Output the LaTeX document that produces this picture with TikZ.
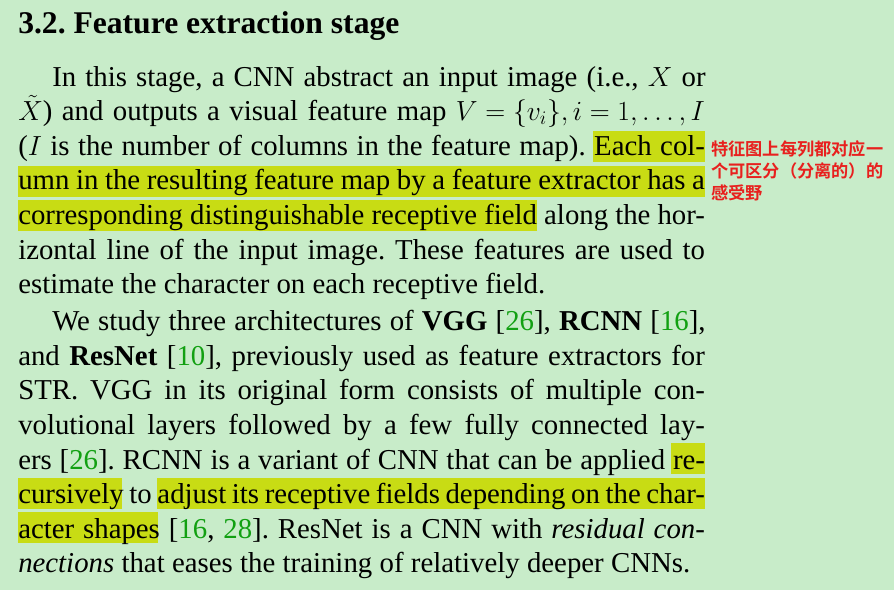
\documentclass[tikz,border=0pt]{standalone}
\usepackage{fontspec}
\setmainfont{Liberation Serif}
\newfontfamily\cjk{Noto Sans CJK SC}[BoldFont={* Bold}]
\definecolor{bg}{HTML}{C8ECC9}
\definecolor{hl}{HTML}{C8DC14}
\definecolor{refg}{HTML}{12A012}
\definecolor{annot}{HTML}{E8201E}
\newcommand{\rf}[1]{\textcolor{refg}{#1}}
\frenchspacing
\begin{document}
\begin{tikzpicture}[x=0.75pt,y=-0.75pt,
  bl/.style={anchor=base west,inner sep=0pt,font=\fontsize{21.6}{26}\selectfont},
  hlbox/.style={fill=hl,draw=none}]
\fill[bg] (0,0) rectangle (894,590);
\useasboundingbox (0,0) rectangle (894,590);
% highlights
\fill[hlbox] (593,131) rectangle (705,162);
\fill[hlbox] (18,166) rectangle (705,197);
\fill[hlbox] (18,200) rectangle (537,231);
\fill[hlbox] (671,443) rectangle (705,474);
\fill[hlbox] (18,478) rectangle (122,509);
\fill[hlbox] (157,478) rectangle (705,509);
\fill[hlbox] (18,512) rectangle (158,543);
% heading
\node[anchor=base west,inner sep=0pt,font=\fontsize{23.7}{28}\selectfont\bfseries] (h) at (18,33) {3.2. Feature extraction stage};
% body
\node[bl] (l1) at (52,86.0) {\makebox[490pt][s]{In this stage, a CNN abstract an input image (i.e., $X$ or}};
\node[bl] (l2) at (18,120.6) {\makebox[515pt][s]{\mbox{$\tilde{X}$}) and outputs a visual feature map \mbox{$V=\{v_i\}, i=1,\ldots,I$}}};
\node[bl] (l3) at (18,155.3) {\makebox[515pt][s]{(\mbox{$I$} is the number of columns in the feature map). Each col-}};
\node[bl] (l4) at (18,189.9) {\makebox[515pt][s]{umn in the resulting feature map by a feature extractor has a}};
\node[bl] (l5) at (18,224.6) {\makebox[515pt][s]{corresponding distinguishable receptive field along the hor-}};
\node[bl] (l6) at (18,259.2) {\makebox[515pt][s]{izontal line of the input image. These features are used to}};
\node[bl] (l7) at (18,293.8) {estimate the character on each receptive field.};
\node[bl] (l8) at (52,330.5) {\makebox[490pt][s]{We study three architectures of \textbf{VGG} [\rf{26}], \textbf{RCNN} [\rf{16}],}};
\node[bl] (l9) at (18,365.1) {\makebox[515pt][s]{and \textbf{ResNet} [\rf{10}], previously used as feature extractors for}};
\node[bl] (l10) at (18,399.8) {\makebox[515pt][s]{STR. VGG in its original form consists of multiple con-}};
\node[bl] (l11) at (18,434.4) {\makebox[515pt][s]{volutional layers followed by a few fully connected lay-}};
\node[bl] (l12) at (18,469.0) {\makebox[515pt][s]{ers [\rf{26}]. RCNN is a variant of CNN that can be applied re-}};
\node[bl] (l13) at (18,503.7) {\makebox[515pt][s]{cursively to adjust its receptive fields depending on the char-}};
\node[bl] (l14) at (18,538.3) {\makebox[515pt][s]{acter shapes [\rf{16}, \rf{28}]. ResNet is a CNN with \textit{residual con-}}};
\node[bl] (l15) at (18,572.9) {\makebox[504pt][s]{\textit{nections} that eases the training of relatively deeper CNNs.}};
% annotation
\node[anchor=north west,inner sep=0pt,align=left,text=annot,
  font=\cjk\bfseries\fontsize{12.9}{16.5}\selectfont] (an) at (711,140)
  {特征图上每列都对应一\\个可区分（分离的）的\\感受野};
\end{tikzpicture}
\end{document}
